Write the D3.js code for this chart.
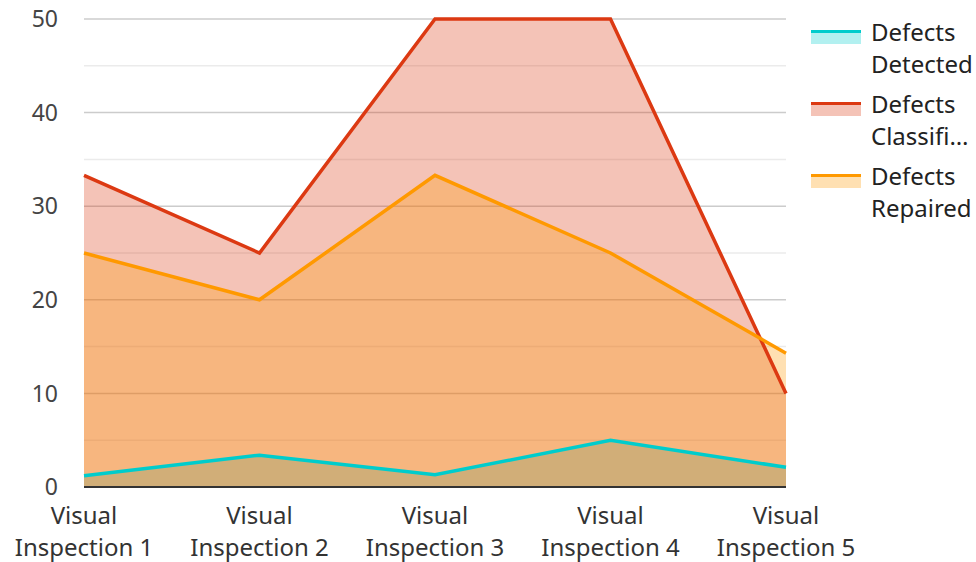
<!DOCTYPE html>
<html>
<head>
<meta charset="utf-8">
<script src="https://cdn.jsdelivr.net/npm/d3@7"></script>
<style>
  html, body { margin: 0; padding: 0; background: #fff; }
  svg { display: block; font-family: "Noto Sans", "Open Sans", sans-serif; }
</style>
</head>
<body>
<svg id="chart" width="976" height="562"></svg>
<script>
// Inspection stages along the x axis
const categories = ["Visual Inspection 1", "Visual Inspection 2", "Visual Inspection 3", "Visual Inspection 4", "Visual Inspection 5"];
const seriesNames = ["Defects Detected", "Defects Classified", "Defects Repaired"];
const legendLabels = [["Defects", "Detected"], ["Defects", "Classifi…"], ["Defects", "Repaired"]];
const defectsDetected = [1.2, 3.4, 1.3, 5, 2.1];
const defectsClassified = [33.3, 25, 50, 50, 10];
const defectsRepaired = [25, 20, 33.3, 25, 14.3];
const yTicks = [0, 10, 20, 30, 40, 50];
const colors = ["#00cccc", "#dc3912", "#ff9900"];

const seriesValues = [defectsDetected, defectsClassified, defectsRepaired];

const svg = d3.select("#chart");
const margin = { left: 84, right: 190, top: 19, bottom: 75 };
const W = 976, H = 562;

const x = d3.scalePoint().domain(categories).range([margin.left, W - margin.right]);
const y = d3.scaleLinear().domain([0, 50]).range([H - margin.bottom, margin.top]);

// gridlines: minor every 5, major every 10
const minor = d3.range(5, 50, 10);
svg.append("g").selectAll("line").data(minor).join("line")
  .attr("x1", margin.left).attr("x2", W - margin.right)
  .attr("y1", d => y(d)).attr("y2", d => y(d))
  .attr("stroke", "#ebebeb").attr("stroke-width", 1.5);
svg.append("g").selectAll("line").data(yTicks.slice(1)).join("line")
  .attr("x1", margin.left).attr("x2", W - margin.right)
  .attr("y1", d => y(d)).attr("y2", d => y(d))
  .attr("stroke", "#cccccc").attr("stroke-width", 1.5);

// y tick labels
svg.append("g").selectAll("text").data(yTicks).join("text")
  .attr("x", 58).attr("y", d => y(d)).attr("dy", "0.36em")
  .attr("text-anchor", "end").attr("font-size", 23).attr("fill", "#444")
  .text(d => d);

const area = d3.area()
  .x((d, i) => x(categories[i]))
  .y0(y(0)).y1(d => y(d));
const line = d3.line()
  .x((d, i) => x(categories[i]))
  .y(d => y(d));

// translucent fills in series order, then lines on top
seriesValues.forEach((vals, k) => {
  svg.append("path").datum(vals)
    .attr("d", area).attr("fill", colors[k]).attr("fill-opacity", 0.3);
});
seriesValues.forEach((vals, k) => {
  svg.append("path").datum(vals)
    .attr("d", line).attr("fill", "none")
    .attr("stroke", colors[k]).attr("stroke-width", 3.5)
    .attr("stroke-linejoin", "miter");
});

// baseline axis
svg.append("line")
  .attr("x1", margin.left).attr("x2", W - margin.right)
  .attr("y1", y(0)).attr("y2", y(0))
  .attr("stroke", "#333").attr("stroke-width", 2);

// x labels on two lines
const xl = svg.append("g").selectAll("text").data(categories).join("text")
  .attr("x", d => x(d)).attr("text-anchor", "middle")
  .attr("font-size", 24).attr("fill", "#333");
xl.each(function(d) {
  const parts = d.split(/ (?=Inspection)/);
  const t = d3.select(this);
  parts.forEach((p, i) => {
    t.append("tspan").attr("x", x(d)).attr("y", 524 + i * 32).text(p);
  });
});

// legend
const lg = svg.append("g");
legendLabels.forEach((lab, i) => {
  const gy = 30 + i * 72;
  lg.append("rect").attr("x", 811).attr("y", gy).attr("width", 50).attr("height", 14)
    .attr("fill", colors[i]).attr("fill-opacity", 0.3);
  lg.append("rect").attr("x", 811).attr("y", gy).attr("width", 50).attr("height", 3)
    .attr("fill", colors[i]);
  const t = lg.append("text").attr("font-size", 24).attr("fill", "#222");
  lab.forEach((s, j) => {
    t.append("tspan").attr("x", 871).attr("y", gy + 11 + j * 32).text(s);
  });
});
</script>
</body>
</html>
